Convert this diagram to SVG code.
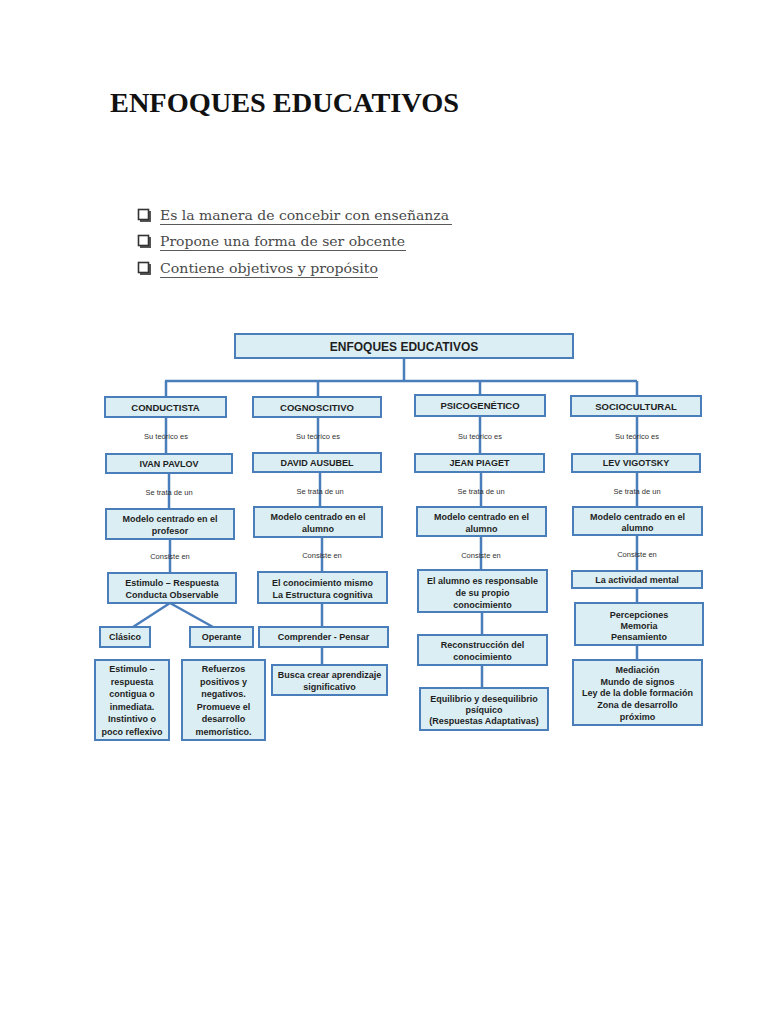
<svg xmlns="http://www.w3.org/2000/svg" width="768" height="1024" viewBox="0 0 768 1024">
<style>
.title{font-family:"Liberation Serif","Times New Roman",serif;font-weight:bold;font-size:27px;fill:#111}
.bul{font-family:"DejaVu Serif","Liberation Serif",serif;font-size:13.5px;fill:#4a4a4a}
.ul{stroke:#5a5a5a;stroke-width:1}
.cb{fill:#fff;stroke:#333;stroke-width:1.6}
.cbs{fill:#555}
.box{fill:#dbeef4;stroke:#4a7ebb;stroke-width:2}
.t{font-family:"Liberation Sans",Arial,sans-serif;font-weight:bold;font-size:9px;fill:#1e1e1e;text-anchor:middle}
.h1{font-size:12px}
.h2{font-size:9.5px}
.lbl{font-family:"Liberation Sans",Arial,sans-serif;font-size:7.5px;fill:#333;text-anchor:middle}
.c{stroke:#4a7ebb;stroke-width:2.5;fill:none}
</style>
<rect width="768" height="1024" fill="#fff"/>
<text class="title" x="110" y="112" textLength="349" lengthAdjust="spacingAndGlyphs">ENFOQUES EDUCATIVOS</text>

<g id="bullets">
<rect class="cbs" x="140" y="211" width="11" height="11"/>
<rect class="cb" x="138.5" y="209.5" width="10" height="10"/>
<text class="bul" x="160" y="220" textLength="289" lengthAdjust="spacingAndGlyphs">Es la manera de concebir con enseñanza</text>
<line class="ul" x1="160" y1="224.5" x2="452" y2="224.5"/>
<rect class="cbs" x="140" y="237" width="11" height="11"/>
<rect class="cb" x="138.5" y="235.5" width="10" height="10"/>
<text class="bul" x="160" y="246" textLength="245" lengthAdjust="spacingAndGlyphs">Propone una forma de ser obcente</text>
<line class="ul" x1="160" y1="250.5" x2="406" y2="250.5"/>
<rect class="cbs" x="140" y="264" width="11" height="11"/>
<rect class="cb" x="138.5" y="262.5" width="10" height="10"/>
<text class="bul" x="160" y="273" textLength="218" lengthAdjust="spacingAndGlyphs">Contiene objetivos y propósito</text>
<line class="ul" x1="160" y1="277.5" x2="378" y2="277.5"/>
</g>

<g id="connectors">
<path class="c" d="M404 358 V381 M165 381 H637 M166 381 V397 M318 381 V397 M480 381 V394 M637 381 V396"/>
<path class="c" d="M166 417 V454 M318 417 V453 M480 416 V454 M637 416 V454"/>
<path class="c" d="M169 473 V509 M320 472 V507 M481 472 V507 M637 472 V507"/>
<path class="c" d="M170 539 V573 M322 537 V572 M481 536 V570 M637 535 V571"/>
<path class="c" d="M170 603 L133 627 M170 603 L213 627"/>
<path class="c" d="M322 603 V627 M322 647 V665"/>
<path class="c" d="M482 612 V635 M482 665 V688"/>
<path class="c" d="M637 588 V603 M637 645 V660"/>
</g>

<g id="labels">
<text class="lbl" x="166" y="439">Su teórico es</text>
<text class="lbl" x="318" y="439">Su teórico es</text>
<text class="lbl" x="480" y="439">Su teórico es</text>
<text class="lbl" x="637" y="439">Su teórico es</text>
<text class="lbl" x="169" y="495">Se trata de un</text>
<text class="lbl" x="320" y="494">Se trata de un</text>
<text class="lbl" x="481" y="494">Se trata de un</text>
<text class="lbl" x="637" y="494">Se trata de un</text>
<text class="lbl" x="170" y="559">Consiste en</text>
<text class="lbl" x="322" y="558">Consiste en</text>
<text class="lbl" x="481" y="558">Consiste en</text>
<text class="lbl" x="637" y="557">Consiste en</text>
</g>

<g id="n-root"><rect class="box" x="235" y="334" width="338" height="24"/><text class="t h1" x="404" y="351">ENFOQUES EDUCATIVOS</text></g>

<g id="n-conductista"><rect class="box" x="105" y="397" width="121" height="20"/><text class="t h2" x="165.5" y="410.5">CONDUCTISTA</text></g>
<g id="n-cognoscitivo"><rect class="box" x="253" y="397" width="128" height="20"/><text class="t h2" x="317" y="410.5">COGNOSCITIVO</text></g>
<g id="n-psicogenetico"><rect class="box" x="415" y="395" width="130" height="21"/><text class="t h2" x="480" y="409">PSICOGENÉTICO</text></g>
<g id="n-sociocultural"><rect class="box" x="571" y="396" width="130" height="20"/><text class="t h2" x="636" y="409.5">SOCIOCULTURAL</text></g>

<g id="n-pavlov"><rect class="box" x="106" y="454" width="126" height="19"/><text class="t" x="169" y="466.5">IVAN PAVLOV</text></g>
<g id="n-ausubel"><rect class="box" x="253" y="453" width="128" height="19"/><text class="t" x="317" y="465.5">DAVID AUSUBEL</text></g>
<g id="n-piaget"><rect class="box" x="415" y="454" width="129" height="18"/><text class="t" x="479.5" y="466">JEAN PIAGET</text></g>
<g id="n-vigotsky"><rect class="box" x="572" y="454" width="128" height="18"/><text class="t" x="636" y="466">LEV VIGOTSKY</text></g>

<g id="n-modelo1"><rect class="box" x="106" y="509" width="128" height="30"/><text class="t" x="170" y="522">Modelo centrado en el</text><text class="t" x="170" y="533.5">profesor</text></g>
<g id="n-modelo2"><rect class="box" x="254" y="507" width="128" height="30"/><text class="t" x="318" y="520">Modelo centrado en el</text><text class="t" x="318" y="531.5">alumno</text></g>
<g id="n-modelo3"><rect class="box" x="417" y="507" width="129" height="29"/><text class="t" x="481.5" y="520">Modelo centrado en el</text><text class="t" x="481.5" y="531.5">alumno</text></g>
<g id="n-modelo4"><rect class="box" x="573" y="507" width="129" height="28"/><text class="t" x="637.5" y="519.5">Modelo centrado en el</text><text class="t" x="637.5" y="531">alumno</text></g>

<g id="n-estimulo"><rect class="box" x="108" y="573" width="128" height="30"/><text class="t" x="172" y="586">Estimulo – Respuesta</text><text class="t" x="172" y="598">Conducta Observable</text></g>
<g id="n-conocimiento"><rect class="box" x="258" y="572" width="129" height="31"/><text class="t" x="322.5" y="585.5">El conocimiento mismo</text><text class="t" x="322.5" y="597.5">La Estructura cognitiva</text></g>
<g id="n-responsable"><rect class="box" x="418" y="570" width="129" height="42"/><text class="t" x="482.5" y="584">El alumno es responsable</text><text class="t" x="482.5" y="596">de su propio</text><text class="t" x="482.5" y="608">conocimiento</text></g>
<g id="n-actividad"><rect class="box" x="572" y="571" width="130" height="17"/><text class="t" x="637" y="582.5">La actividad mental</text></g>

<g id="n-clasico"><rect class="box" x="100" y="627" width="50" height="20"/><text class="t" x="125" y="640">Clásico</text></g>
<g id="n-operante"><rect class="box" x="190" y="627" width="63" height="20"/><text class="t" x="221.5" y="640">Operante</text></g>
<g id="n-comprender"><rect class="box" x="259" y="627" width="129" height="20"/><text class="t" x="323.5" y="640">Comprender - Pensar</text></g>
<g id="n-reconstruccion"><rect class="box" x="418" y="635" width="129" height="30"/><text class="t" x="482.5" y="648">Reconstrucción del</text><text class="t" x="482.5" y="659.5">conocimiento</text></g>
<g id="n-percepciones"><rect class="box" x="575" y="603" width="128" height="42"/><text class="t" x="639" y="618">Percepciones</text><text class="t" x="639" y="628.5">Memoria</text><text class="t" x="639" y="640">Pensamiento</text></g>

<g id="n-clasico-desc"><rect class="box" x="95" y="660" width="74" height="80"/>
<text class="t" x="132" y="672">Estimulo –</text><text class="t" x="132" y="684.5">respuesta</text><text class="t" x="132" y="697">contigua o</text><text class="t" x="132" y="709.5">inmediata.</text><text class="t" x="132" y="722">Instintivo o</text><text class="t" x="132" y="734.5">poco reflexivo</text></g>
<g id="n-operante-desc"><rect class="box" x="182" y="660" width="83" height="80"/>
<text class="t" x="223.5" y="672">Refuerzos</text><text class="t" x="223.5" y="684.5">positivos y</text><text class="t" x="223.5" y="697">negativos.</text><text class="t" x="223.5" y="709.5">Promueve el</text><text class="t" x="223.5" y="722">desarrollo</text><text class="t" x="223.5" y="734.5">memorístico.</text></g>
<g id="n-busca"><rect class="box" x="272" y="665" width="115" height="30"/><text class="t" x="329.5" y="678">Busca crear aprendizaje</text><text class="t" x="329.5" y="690">significativo</text></g>
<g id="n-equilibrio"><rect class="box" x="420" y="688" width="128" height="42"/><text class="t" x="484" y="702">Equilibrio y desequilibrio</text><text class="t" x="484" y="712.5">psíquico</text><text class="t" x="484" y="723.5">(Respuestas Adaptativas)</text></g>
<g id="n-mediacion"><rect class="box" x="573" y="660" width="129" height="65"/><text class="t" x="637.5" y="673">Mediación</text><text class="t" x="637.5" y="684.5">Mundo de signos</text><text class="t" x="637.5" y="696">Ley de la doble formación</text><text class="t" x="637.5" y="707.5">Zona de desarrollo</text><text class="t" x="637.5" y="719.5">próximo</text></g>
</svg>
